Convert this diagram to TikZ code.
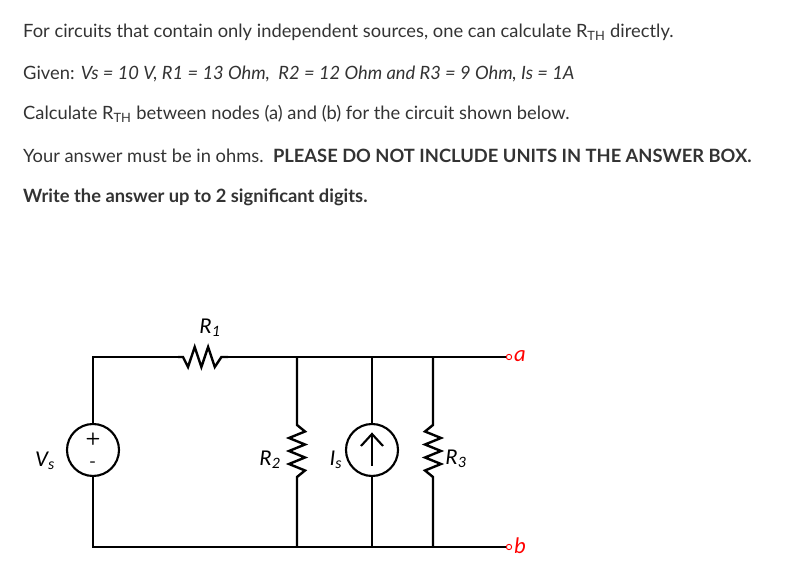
\documentclass[tikz,border=0pt]{standalone}
\usepackage{fontspec}
\setmainfont{Lato}
\newfontfamily\carlfont{Carlito}
\begin{document}
\begin{tikzpicture}[x=0.75pt,y=-0.75pt,line width=1.8pt,
  txt/.style={anchor=west,text=black!80,font=\fontsize{13.75}{16}\selectfont,inner sep=0},
  lab/.style={font=\carlfont\itshape\fontsize{17}{19}\selectfont,inner sep=0},
  term/.style={circle,draw=red,line width=0.7pt,inner sep=0,minimum size=4pt},
  src/.style={circle,draw,line width=1.6pt,minimum size=39pt,inner sep=0}]
\useasboundingbox (0,0) rectangle (790,580);
\node[txt] at (22,32) {For circuits that contain only independent sources, one can calculate R\textsubscript{TH} directly.};
\node[txt] at (22,74) {Given: \textit{Vs = 10 V, R1 = 13 Ohm,\ \ R2 = 12 Ohm and R3 = 9 Ohm, Is = 1A}};
\node[txt] at (22,114) {Calculate R\textsubscript{TH} between nodes (a) and (b) for the circuit shown below.};
\node[txt] at (22,156) {Your answer must be in ohms.\ \ \textbf{PLEASE DO NOT INCLUDE UNITS IN THE ANSWER BOX.}};
\node[txt] at (22,197) {\textbf{Write the answer up to 2 significant digits.}};
% nodes
\node[src] (vs) at (93,450) {};
\node[src] (is) at (372,450) {};
\node[term] (a) at (509,357) {};
\node[term] (b) at (509,547) {};
\coordinate (tl) at (93,357); \coordinate (bl) at (93,547);
\coordinate (r1a) at (178,357); \coordinate (r1b) at (228,357);
\coordinate (r2t) at (297,357); \coordinate (r2a) at (297,425); \coordinate (r2b) at (297,477); \coordinate (r2d) at (297,547);
\coordinate (ist) at (372,357); \coordinate (isd) at (372,547);
\coordinate (r3t) at (433,357); \coordinate (r3a) at (433,425); \coordinate (r3b) at (433,477); \coordinate (r3d) at (433,547);
% wires
\draw (vs.north) -- (tl) -- (r1a);
\draw (r1a) -- ++(5,0) -- ++(5,10) -- ++(6.7,-20) -- ++(6.7,20) -- ++(6.7,-20) -- ++(6.7,20) -- ++(6.6,-10) -- (r1b);
\draw (r1b) -- (a.west);
\draw (vs.south) -- (bl) -- (b.west);
\draw (r2t) -- (r2a) -- ++(8,6.5) -- ++(-16,6.5) -- ++(16,6.5) -- ++(-16,6.5) -- ++(16,6.5) -- ++(-16,6.5) -- ++(16,6.5) -- (r2b) -- (r2d);
\draw (r3t) -- (r3a) -- ++(-8,6.5) -- ++(16,6.5) -- ++(-16,6.5) -- ++(16,6.5) -- ++(-16,6.5) -- ++(16,6.5) -- ++(-16,6.5) -- (r3b) -- (r3d);
\draw (ist) -- (is.north); \draw (is.south) -- (isd);
\draw[line width=1.6pt] (372,466) -- (372,434);
\draw[line width=1.6pt] (361,446) -- (372,434) -- (383,446);
\node[font=\sffamily\bfseries\fontsize{13}{14}\selectfont] at (93,439) {+};
\node[font=\sffamily\bfseries\fontsize{13}{14}\selectfont] at (93,464) {-};
% labels
\node[lab] at (210,328) {R\textsubscript{1}};
\node[lab] at (45,461) {V\textsubscript{s}};
\node[lab] at (270,460) {R\textsubscript{2}};
\node[lab] at (336,460) {I\textsubscript{s}};
\node[lab] at (456,459) {R\textsubscript{3}};
\node[lab,text=red,anchor=west] at (513,356) {a};
\node[lab,text=red,anchor=west] at (513,546) {b};
\end{tikzpicture}
\end{document}
